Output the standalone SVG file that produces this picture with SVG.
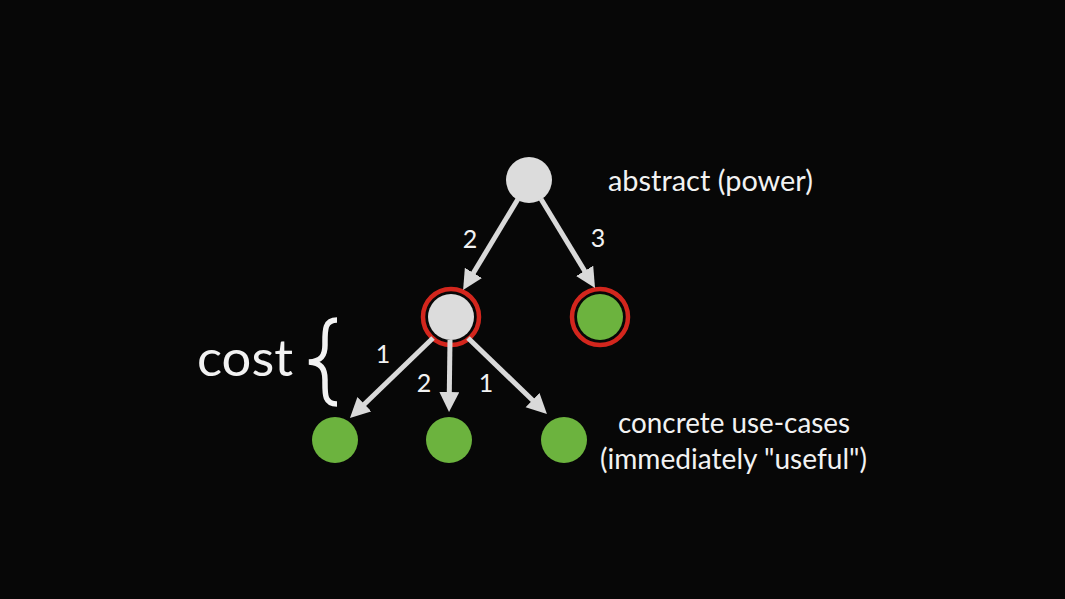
<svg xmlns="http://www.w3.org/2000/svg" width="1065" height="599" viewBox="0 0 1065 599">
<style>
.bg{fill:#070707}
.gray{fill:#dcdcdc}
.green{fill:#6cb33e}
.ring{fill:none;stroke:#d3261d;stroke-width:4.5}
.conn{stroke:#d9d9d9;stroke-width:5;fill:none;marker-end:url(#ah)}
.t{font-family:Lato,"Open Sans","Liberation Sans",sans-serif;fill:#f2f2f2}
.lbl{font-size:28px}
.num{font-size:25px;text-anchor:middle}
</style>
<defs>
<marker id="ah" markerUnits="userSpaceOnUse" markerWidth="22" markerHeight="22" refX="8" refY="10" orient="auto">
<path d="M0,0 L20,10 L0,20 z" fill="#d9d9d9"/>
</marker>
</defs>
<rect class="bg" x="0" y="0" width="1065" height="599"/>
<g id="node-top"><circle class="gray" cx="529" cy="180" r="23"/></g>
<g id="node-mid-left"><circle class="gray" cx="451" cy="317" r="23"/><circle class="ring" cx="451" cy="317" r="28"/></g>
<g id="node-mid-right"><circle class="green" cx="600" cy="317" r="23"/><circle class="ring" cx="600" cy="317" r="28"/></g>
<g id="node-bot-1"><circle class="green" cx="335" cy="440" r="23"/></g>
<g id="node-bot-2"><circle class="green" cx="449" cy="440" r="23"/></g>
<g id="node-bot-3"><circle class="green" cx="564" cy="440" r="23"/></g>
<g id="connectors">
<line class="conn" x1="518" y1="199" x2="469.3" y2="279.8"/>
<line class="conn" x1="541" y1="199" x2="588.8" y2="277.7"/>
<line class="conn" x1="433" y1="338" x2="358.6" y2="409.7"/>
<line class="conn" x1="450" y1="340" x2="449.2" y2="400"/>
<line class="conn" x1="468" y1="338" x2="538.3" y2="405.7"/>
</g>
<g id="labels">
<text class="t num" x="470" y="248">2</text>
<text class="t num" x="598" y="247">3</text>
<text class="t num" x="383" y="363">1</text>
<text class="t num" x="424" y="392">2</text>
<text class="t num" x="486" y="392">1</text>
<text class="t lbl" x="608" y="191" textLength="205" lengthAdjust="spacingAndGlyphs">abstract (power)</text>
<text class="t lbl" x="618" y="433" textLength="232" lengthAdjust="spacingAndGlyphs">concrete use-cases</text>
<text class="t lbl" x="600" y="469" textLength="267" lengthAdjust="spacingAndGlyphs">(immediately "useful")</text>
<text class="t" x="197" y="376" font-size="51" textLength="96" lengthAdjust="spacingAndGlyphs">cost</text>
</g>
<g id="brace">
<path d="M337,320 C324,320 325,331 325,345 C325,356 321,361 309,362 C321,363 325,368 325,380 C325,394 324,404 337,404" fill="none" stroke="#f2f2f2" stroke-width="5.5"/>
</g>
</svg>
